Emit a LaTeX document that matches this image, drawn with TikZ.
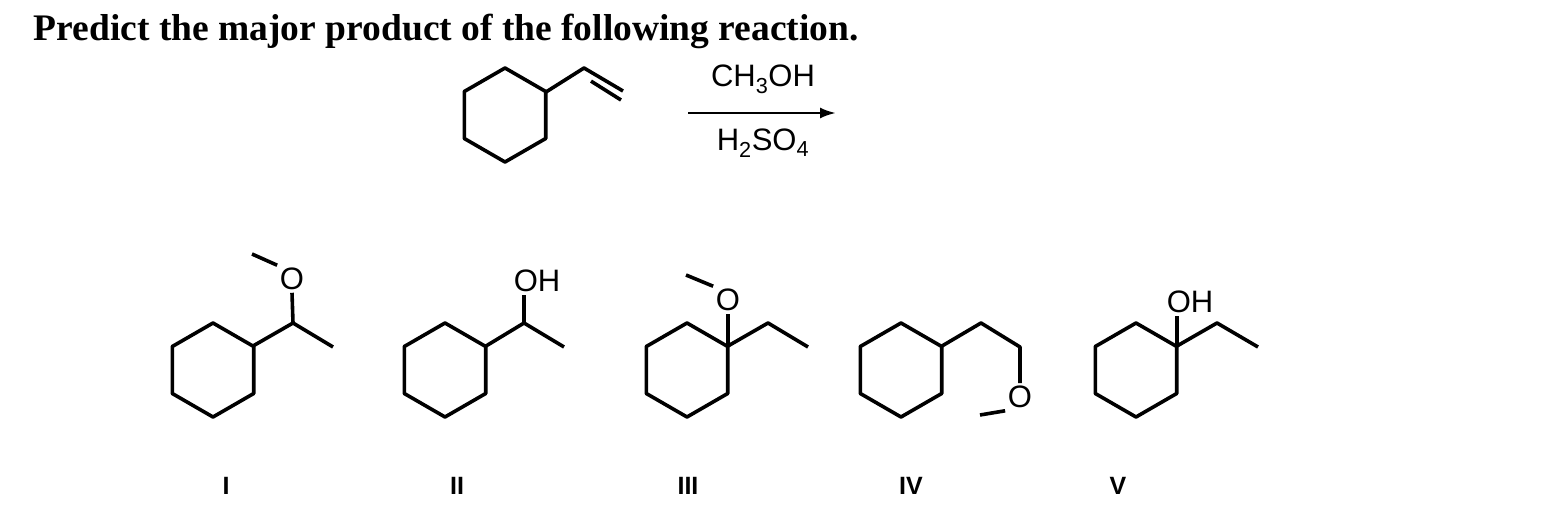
\documentclass[tikz,border=0pt]{standalone}
\usepackage{fontspec}
\setmainfont{Liberation Serif}
\setsansfont{Liberation Sans}
\usetikzlibrary{calc,arrows.meta}
\begin{document}
\begin{tikzpicture}[x=1pt,y=-1pt,line width=3.6pt,line join=round,
  atom/.style={font=\sffamily\fontsize{31}{31}\selectfont,inner sep=1pt},
  lab/.style={font=\sffamily\bfseries\fontsize{25}{25}\selectfont,inner sep=0pt},
  bond/.style={line width=3.6pt}]
\useasboundingbox (0,0) rectangle (1560,513);
\newcommand{\hexring}[2]{\draw[bond] (#1,#2) -- ++(40.7,23.5) -- ++(0,47) -- ++(-40.7,23.5) -- ++(-40.7,-23.5) -- ++(0,-47) -- cycle;}
\node[anchor=base west,font=\bfseries\fontsize{37.5}{37.5}\selectfont,inner sep=0pt] (title) at (32,41) {Predict the major product of the following reaction.};
% reactant
\hexring{505}{68}
\coordinate (ra) at (546,92); \coordinate (rb) at (584,68); \coordinate (rc) at (623,91);
\draw[bond] (ra) -- (rb) -- (rc);
\draw[bond] ($(rb)!0.18!(rc)+(0,9)$) -- ($(rc)+(-2,9)$);
\coordinate (a1) at (688,113); \coordinate (a2) at (836,113);
\draw[line width=2.6pt,-{Latex[length=16pt,width=11pt]}] (a1) -- (a2);
\node[atom] (r1) at (763,79) {CH\textsubscript{3}OH};
\node[atom] (r2) at (763,143) {H\textsubscript{2}SO\textsubscript{4}};
% I
\hexring{213}{323}
\coordinate (i1) at (253,346); \coordinate (i2) at (293,323); \coordinate (i3) at (333,347); \coordinate (i4) at (252,254);
\node[atom] (iO) at (292,279) {O};
\draw[bond] (i1) -- (i2) -- (i3); \draw[bond] (i2) -- (iO.south); \draw[bond] (iO.north west) -- (i4);
% II
\hexring{445}{323}
\coordinate (j1) at (486,346); \coordinate (j2) at (524,323); \coordinate (j3) at (564,347);
\node[atom,anchor=south west,inner sep=0pt,xshift=-12pt] (jO) at (524,294) {OH};
\draw[bond] (j1) -- (j2) -- (j3); \draw[bond] (j2) -- (524,295);
% III
\hexring{687}{323}
\coordinate (k1) at (728,346); \coordinate (k2) at (768,323); \coordinate (k3) at (808,347); \coordinate (k4) at (686,275);
\node[atom] (kO) at (728,300) {O};
\draw[bond] (k1) -- (k2) -- (k3); \draw[bond] (k1) -- (kO.south); \draw[bond] (kO.north west) -- (k4);
% IV
\hexring{901}{323}
\coordinate (l1) at (942,346); \coordinate (l2) at (981,323); \coordinate (l3) at (1020,347); \coordinate (l4) at (980,415);
\node[atom] (lO) at (1020,397) {O};
\draw[bond] (l1) -- (l2) -- (l3) -- (lO.north); \draw[bond] (lO.south west) -- (l4);
% V
\hexring{1136}{323}
\coordinate (m1) at (1177,346); \coordinate (m2) at (1217,323); \coordinate (m3) at (1258,347);
\node[atom,anchor=south west,inner sep=0pt,xshift=-12pt] (mO) at (1177,315) {OH};
\draw[bond] (m1) -- (m2) -- (m3); \draw[bond] (m1) -- (1177,316);
% labels
\node[lab] (L1) at (226,486) {I};
\node[lab] (L2) at (457,486) {II};
\node[lab] (L3) at (688,486) {III};
\node[lab] (L4) at (911,486) {IV};
\node[lab] (L5) at (1118,486) {V};
\end{tikzpicture}
\end{document}
